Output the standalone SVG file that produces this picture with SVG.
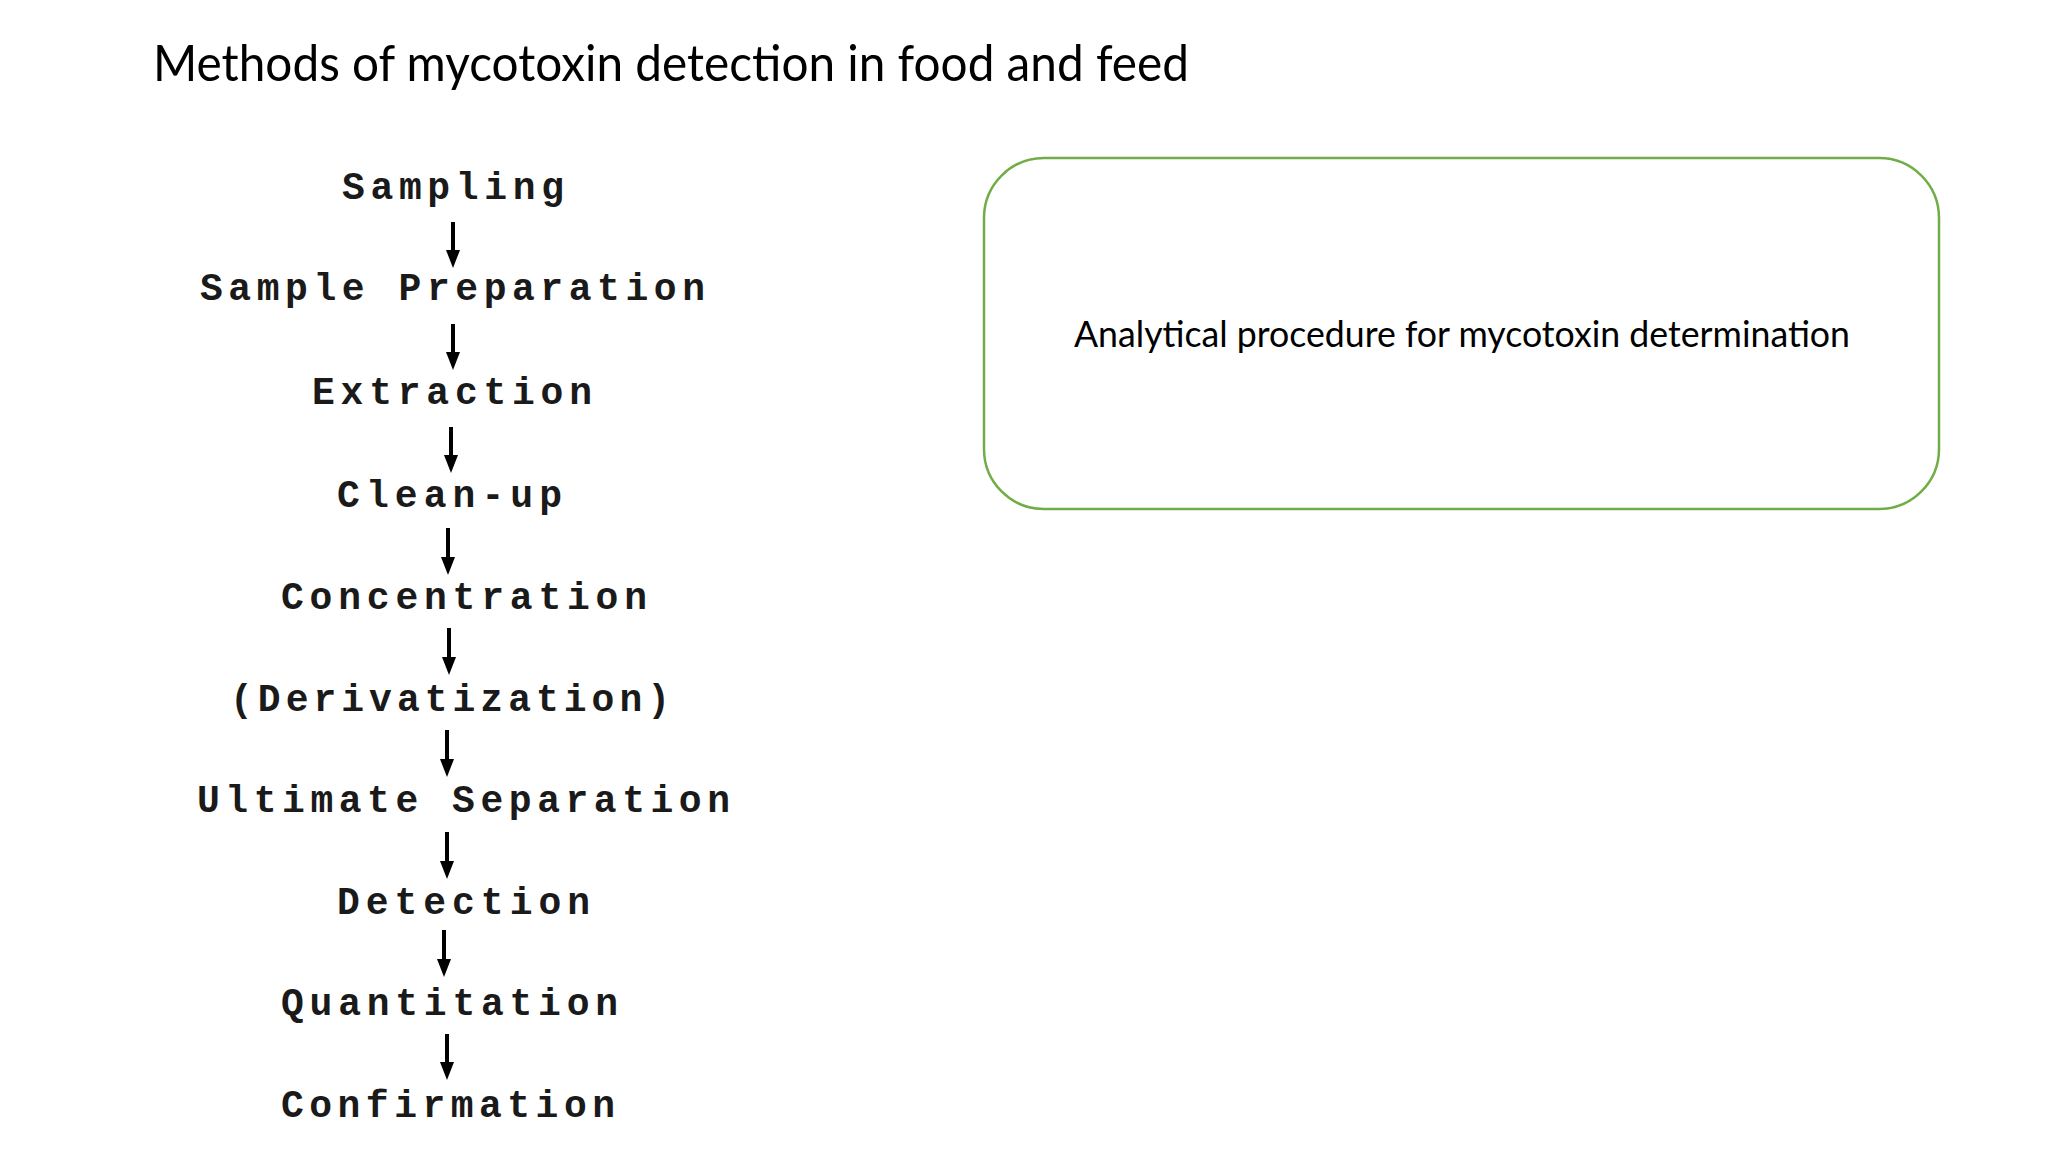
<svg xmlns="http://www.w3.org/2000/svg" width="2048" height="1152" viewBox="0 0 2048 1152">
<style>
.title{font-family:Lato,"Open Sans","Liberation Sans",sans-serif;font-size:50px;fill:#000}
.step{font-family:"Liberation Mono","DejaVu Sans Mono",monospace;font-weight:bold;font-size:38px;fill:#1a1a1a}
.label{font-family:Lato,"Open Sans","Liberation Sans",sans-serif;font-size:36px;fill:#000}
.conn{stroke:#000;stroke-width:4;fill:none}
</style>
<defs>
<marker id="ah" markerUnits="userSpaceOnUse" markerWidth="18" markerHeight="14" refX="2" refY="7" orient="auto" viewBox="0 0 18 14">
<path d="M0,0 L18,7 L0,14 Z" fill="#000"/>
</marker>
</defs>
<rect width="2048" height="1152" fill="#fff"/>
<text id="title" class="title" x="153" y="81" textLength="1036" lengthAdjust="spacingAndGlyphs">Methods of mycotoxin detection in food and feed</text>

<g id="n1"><text class="step" x="342" y="199" textLength="222" lengthAdjust="spacing">Sampling</text></g>
<g id="n2"><text class="step" x="200" y="300" textLength="505" lengthAdjust="spacing">Sample Preparation</text></g>
<g id="n3"><text class="step" x="312" y="404" textLength="280" lengthAdjust="spacing">Extraction</text></g>
<g id="n4"><text class="step" x="337" y="507" textLength="225" lengthAdjust="spacing">Clean-up</text></g>
<g id="n5"><text class="step" x="281" y="609" textLength="366" lengthAdjust="spacing">Concentration</text></g>
<g id="n6"><text class="step" x="230" y="711" textLength="440" lengthAdjust="spacing">(Derivatization)</text></g>
<g id="n7"><text class="step" x="197" y="812" textLength="533" lengthAdjust="spacing">Ultimate Separation</text></g>
<g id="n8"><text class="step" x="337" y="914" textLength="253" lengthAdjust="spacing">Detection</text></g>
<g id="n9"><text class="step" x="281" y="1015" textLength="337" lengthAdjust="spacing">Quantitation</text></g>
<g id="n10"><text class="step" x="281" y="1117" textLength="334" lengthAdjust="spacing">Confirmation</text></g>

<g id="connectors">
<line class="conn" x1="453" y1="222" x2="453" y2="252" marker-end="url(#ah)"/>
<line class="conn" x1="453" y1="324" x2="453" y2="354" marker-end="url(#ah)"/>
<line class="conn" x1="451" y1="427" x2="451" y2="457" marker-end="url(#ah)"/>
<line class="conn" x1="448" y1="528" x2="448" y2="559" marker-end="url(#ah)"/>
<line class="conn" x1="449" y1="628" x2="449" y2="659" marker-end="url(#ah)"/>
<line class="conn" x1="447" y1="730" x2="447" y2="761" marker-end="url(#ah)"/>
<line class="conn" x1="447" y1="832" x2="447" y2="863" marker-end="url(#ah)"/>
<line class="conn" x1="444" y1="930" x2="444" y2="961" marker-end="url(#ah)"/>
<line class="conn" x1="447" y1="1034" x2="447" y2="1064" marker-end="url(#ah)"/>
</g>

<g id="caption-box">
<rect x="984" y="158" width="955" height="351" rx="60" ry="60" fill="#fff" stroke="#70AD47" stroke-width="2.5"/>
<text class="label" x="1074" y="347" textLength="776" lengthAdjust="spacingAndGlyphs">Analytical procedure for mycotoxin determination</text>
</g>
</svg>
